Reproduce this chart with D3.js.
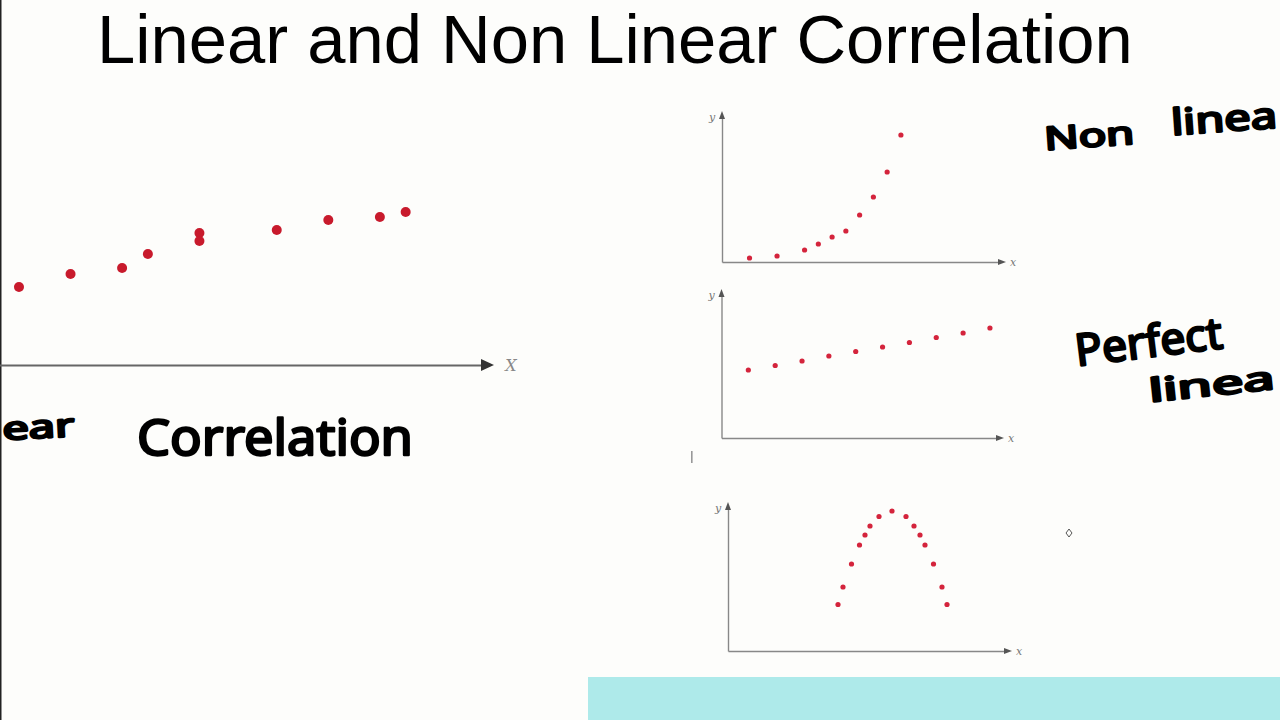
<!DOCTYPE html>
<html>
<head>
<meta charset="utf-8">
<script src="https://cdn.jsdelivr.net/npm/d3@7"></script>
<style>
  html, body { margin: 0; padding: 0; background: #fdfdfb; }
  svg { display: block; }
</style>
</head>
<body>
<svg id="chart" width="1280" height="720"></svg>
<script>
// ---------- DATA ----------
const titleText = "Linear and Non Linear Correlation";

// Left (large) scatter – linear correlation
const linX = [1, 3, 5, 6, 8, 8, 11, 13, 15, 16];
const linY = [7.8, 9.1, 9.7, 11.1, 13.2, 12.4, 13.5, 14.5, 14.8, 15.3];

// Top-right – non linear (exponential-like)
const nonLinX = [2, 4, 6, 7, 8, 9, 10, 11, 12, 13];
const nonLinY = [4, 6, 12, 18, 25, 31, 47, 65, 90, 127];

// Middle-right – perfect linear
const perfX = [1, 2, 3, 4, 5, 6, 7, 8, 9, 10];
const perfY = [68, 72.5, 77, 82, 86.5, 91, 95.5, 100.5, 105, 110];

// Bottom-right – arch (non linear)
const arcX = [110, 115, 123.5, 131.5, 137, 142, 151, 164, 178, 186, 192, 197, 205.5, 214, 219];
const arcY = [46.5, 64, 87, 106, 116, 125, 134.5, 140, 134.5, 125, 116, 106, 87, 64, 46.5];

// Handwritten annotations
const notes = ["Non", "linea", "Perfect", "linea", "ear", "Correlation"];

// ---------- DRAW ----------
const svg = d3.select("#chart");
svg.append("rect").attr("width", 1280).attr("height", 720).attr("fill", "#fdfdfb");

// left dark border line
svg.append("rect").attr("x", 0).attr("y", 0).attr("width", 1.5).attr("height", 720).attr("fill", "#222");

// cyan block bottom right
svg.append("rect").attr("x", 588).attr("y", 677).attr("width", 692).attr("height", 43).attr("fill", "#aeeaea");

// Title
const title = svg.append("text")
  .attr("x", 97).attr("y", 63)
  .attr("font-family", "'Liberation Sans', Arial, sans-serif")
  .attr("font-size", 68)
  .attr("fill", "#000")
  .text(titleText);
const tw = title.node().getComputedTextLength();
title.attr("font-size", 68 * 1036 / tw);

// ---------- Left large scatter ----------
{
  const x = d3.scaleLinear().domain([0, 19]).range([-6.8, 483]);
  const y = d3.scaleLinear().domain([0, 16]).range([365, 205]);
  const g = svg.append("g");
  const ax = g.append("g").attr("transform", `translate(0,${y(0)})`)
    .call(d3.axisBottom(x).tickValues([]).tickSizeOuter(0));
  ax.select(".domain").attr("stroke", "#666").attr("stroke-width", 2);
  const xe = x.range()[1];
  g.append("path").attr("d", `M${xe - 2},${y(0) - 6}L${xe + 11},${y(0)}L${xe - 2},${y(0) + 6}Z`).attr("fill", "#333");
  g.append("text").attr("x", 511).attr("y", y(0) + 6).attr("text-anchor", "middle")
    .attr("font-family", "'DejaVu Serif', serif").attr("font-style", "italic")
    .attr("font-size", 16).attr("fill", "#888").text("X");
  g.selectAll("circle").data(linX.map((d, i) => [d, linY[i]])).join("circle")
    .attr("cx", d => x(d[0])).attr("cy", d => y(d[1])).attr("r", 5)
    .attr("fill", "#c81a2c");
}

// ---------- small panels ----------
const panels = [
  { xs: nonLinX, ys: nonLinY, xd: [0, 20.2], xr: [722, 1000], yd: [0, 145], yr: [262, 117] },
  { xs: perfX, ys: perfY, xd: [0, 10.3], xr: [721.5, 998], yd: [0, 143], yr: [438, 295] },
  { xs: arcX, ys: arcY, xd: [0, 278], xr: [728, 1006], yd: [0, 143], yr: [651, 508] }
];

panels.forEach(p => {
  const x = d3.scaleLinear().domain(p.xd).range(p.xr);
  const y = d3.scaleLinear().domain(p.yd).range(p.yr);
  const g = svg.append("g");
  const gx = g.append("g").attr("transform", `translate(0,${y(0)})`)
    .call(d3.axisBottom(x).tickValues([]).tickSizeOuter(0));
  gx.select(".domain").attr("stroke", "#888").attr("stroke-width", 1.4);
  const gy = g.append("g").attr("transform", `translate(${x(0)},0)`)
    .call(d3.axisLeft(y).tickValues([]).tickSizeOuter(0));
  gy.select(".domain").attr("stroke", "#888").attr("stroke-width", 1.4);
  const xe = x(p.xd[1]), y0 = y(0), x0 = x(0), ye = y(p.yd[1]);
  g.append("path").attr("d", `M${xe - 2},${y0 - 3}L${xe + 6},${y0}L${xe - 2},${y0 + 3}Z`).attr("fill", "#555");
  g.append("path").attr("d", `M${x0 - 3},${ye + 2}L${x0},${ye - 6}L${x0 + 3},${ye + 2}Z`).attr("fill", "#555");
  g.append("text").attr("x", xe + 10).attr("y", y0 + 4)
    .attr("font-family", "'DejaVu Serif', serif").attr("font-style", "italic")
    .attr("font-size", 11).attr("fill", "#777").text("x");
  g.append("text").attr("x", x0 - 13).attr("y", ye + 4)
    .attr("font-family", "'DejaVu Serif', serif").attr("font-style", "italic")
    .attr("font-size", 11).attr("fill", "#777").text("y");
  g.selectAll("circle").data(p.xs.map((d, i) => [d, p.ys[i]])).join("circle")
    .attr("cx", d => x(d[0])).attr("cy", d => y(d[1])).attr("r", 2.6)
    .attr("fill", "#d4243c");
});

// small stray marks
svg.append("rect").attr("x", 691).attr("y", 451).attr("width", 1.6).attr("height", 12).attr("fill", "#999");
svg.append("path").attr("d", "M1069,529L1072,533L1069,537L1066,533Z").attr("fill", "none").attr("stroke", "#555").attr("stroke-width", 1);

// ---------- handwritten annotations (approximated) ----------
const hand = [
  { t: notes[0], x: 1045, y: 150, w: 90, fs: 32, rot: -4 },
  { t: notes[1], x: 1172, y: 135, w: 106, fs: 36, rot: -4 },
  { t: notes[2], x: 1077, y: 366, w: 148, fs: 44, rot: -7 },
  { t: notes[3], x: 1150, y: 402, w: 126, fs: 32, rot: -6 },
  { t: notes[4], x: 3, y: 440, w: 72, fs: 32, rot: -3 },
  { t: notes[5], x: 137, y: 455, w: 276, fs: 50, rot: 0 }
];
svg.selectAll("text.hand").data(hand).join("text")
  .attr("class", "hand")
  .attr("x", d => d.x).attr("y", d => d.y)
  .attr("transform", d => `rotate(${d.rot},${d.x},${d.y})`)
  .attr("font-family", "'Noto Sans', sans-serif")
  .attr("font-weight", 400)
  .attr("font-size", d => d.fs)
  .attr("textLength", d => d.w)
  .attr("lengthAdjust", "spacingAndGlyphs")
  .attr("fill", "#000").attr("stroke", "#000").attr("stroke-width", 2.4)
  .attr("stroke-linejoin", "round").attr("stroke-linecap", "round")
  .text(d => d.t);
</script>
</body>
</html>
